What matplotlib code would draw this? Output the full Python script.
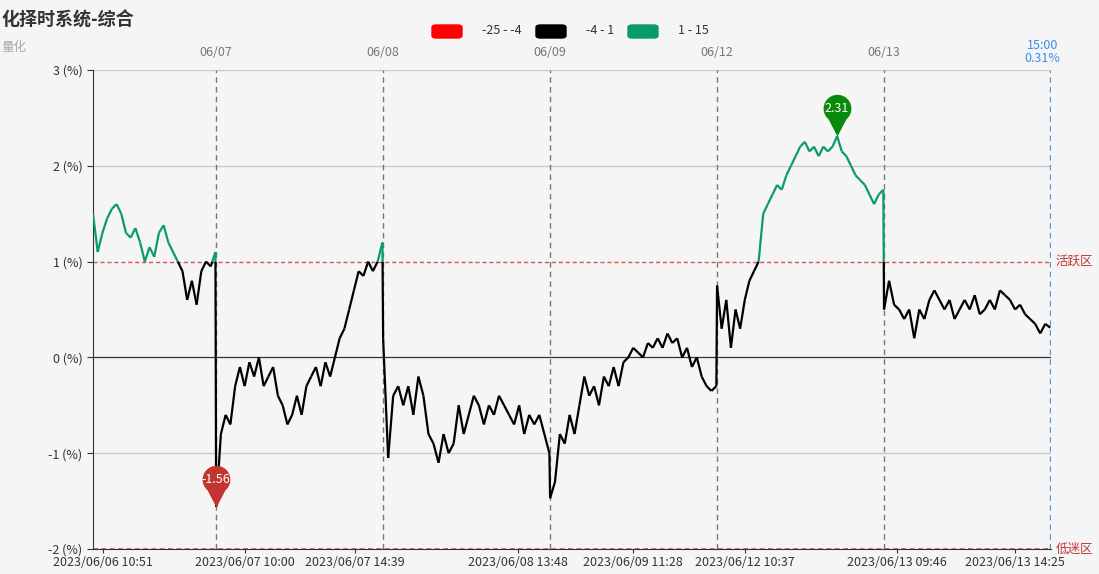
import numpy as np
import matplotlib.pyplot as plt
from matplotlib.collections import LineCollection
from matplotlib.path import Path
from matplotlib.patches import FancyBboxPatch

plt.rcParams["font.family"] = ["Noto Sans CJK SC", "DejaVu Sans"]

# daily values (%), evenly spaced within each trading session
day0 = [1.5, 1.1, 1.3, 1.45, 1.55, 1.6, 1.5, 1.3, 1.25, 1.35, 1.2, 1.0, 1.15, 1.05,
        1.3, 1.38, 1.2, 1.1, 1.0, 0.9, 0.6, 0.8, 0.55, 0.9, 1.0, 0.95, 1.1]
day1 = [-1.56, -0.8, -0.6, -0.7, -0.3, -0.1, -0.3, -0.05, -0.2, 0.0, -0.3, -0.2, -0.1,
        -0.4, -0.5, -0.7, -0.6, -0.4, -0.6, -0.3, -0.2, -0.1, -0.3, -0.05, -0.2, 0.0,
        0.2, 0.3, 0.5, 0.7, 0.9, 0.85, 1.0, 0.9, 1.0, 1.2]
day2 = [0.2, -1.05, -0.4, -0.3, -0.5, -0.3, -0.6, -0.2, -0.4, -0.8, -0.9, -1.1, -0.8,
        -1.0, -0.9, -0.5, -0.8, -0.6, -0.4, -0.5, -0.7, -0.5, -0.6, -0.4, -0.5, -0.6,
        -0.7, -0.5, -0.8, -0.6, -0.7, -0.6, -0.8, -1.0]
day3 = [-1.47, -1.3, -0.8, -0.9, -0.6, -0.8, -0.5, -0.2, -0.4, -0.3, -0.5, -0.2, -0.3,
        -0.1, -0.3, -0.05, 0.0, 0.1, 0.05, 0.0, 0.15, 0.1, 0.2, 0.1, 0.25, 0.15, 0.2,
        0.0, 0.1, -0.1, 0.0, -0.2, -0.3, -0.35, -0.3]
day4 = [0.75, 0.3, 0.6, 0.1, 0.5, 0.3, 0.6, 0.8, 0.9, 1.0, 1.5, 1.6, 1.7, 1.8, 1.75,
        1.9, 2.0, 2.1, 2.2, 2.25, 2.15, 2.2, 2.1, 2.2, 2.15, 2.2, 2.31, 2.15, 2.1, 2.0,
        1.9, 1.85, 1.8, 1.7, 1.6, 1.7, 1.75]
day5 = [0.5, 0.8, 0.55, 0.5, 0.4, 0.5, 0.2, 0.5, 0.4, 0.6, 0.7, 0.6, 0.5, 0.6, 0.4,
        0.5, 0.6, 0.5, 0.65, 0.45, 0.5, 0.6, 0.5, 0.7, 0.65, 0.6, 0.5, 0.55, 0.45, 0.4,
        0.35, 0.25, 0.35, 0.31]
days = [day0, day1, day2, day3, day4, day5]
day_minutes = [177, 240, 240, 240, 240, 240]
day_labels = ["06/07", "06/08", "06/09", "06/12", "06/13"]
bottom_labels = ["2023/06/06 10:51", "2023/06/07 10:00", "2023/06/07 14:39", "2023/06/08 13:48",
                 "2023/06/09 11:28", "2023/06/12 10:37", "2023/06/13 09:46", "2023/06/13 14:25"]
bottom_pos = [14, 218, 377, 611, 776, 937, 1155, 1325]
pieces = [(-25, -4, "#ff0000", "-25 - -4"), (-4, 1, "#000000", "-4 - 1"), (1, 15, "#0a9b6b", "1 - 15")]

xs, ys = [], []
start = 0
for vals, width in zip(days, day_minutes):
    n = len(vals)
    xs.extend(start + np.linspace(0, width - 1, n))
    ys.extend(vals)
    start += width
xs = np.array(xs)
ys = np.array(ys)
bounds = np.cumsum(day_minutes)

# split segments at threshold 1 and -4
px, py = [xs[0]], [ys[0]]
for i in range(1, len(xs)):
    for t in (1, -4):
        if (ys[i - 1] - t) * (ys[i] - t) < 0:
            f = (t - ys[i - 1]) / (ys[i] - ys[i - 1])
            px.append(xs[i - 1] + f * (xs[i] - xs[i - 1]))
            py.append(t)
    px.append(xs[i])
    py.append(ys[i])
px, py = np.array(px), np.array(py)
segs, cols = [], []
for i in range(1, len(px)):
    mid = (py[i] + py[i - 1]) / 2
    c = "#000000"
    for lo, hi, col, _ in pieces:
        if lo <= mid < hi:
            c = col
    segs.append([(px[i - 1], py[i - 1]), (px[i], py[i])])
    cols.append(c)

fig = plt.figure(figsize=(10.99, 5.74), dpi=100, facecolor="#f5f5f5")
ax = fig.add_axes([93 / 1099, 25 / 574, 958 / 1099, 479 / 574])
ax.set_facecolor("#f5f5f5")
ax.set_xlim(0, bounds[-1])
ax.set_ylim(-2, 3)

for y in (2, -1, 3):
    ax.axhline(y, color="#cccccc", lw=1, zorder=1)
ax.axhline(0, color="#333333", lw=0.9, zorder=1)
ax.axhline(1, color="#d9534f", lw=1, ls=(0, (3, 2)), zorder=1)
ax.axhline(-2, color="#d9534f", lw=1.2, ls=(0, (3, 2)), zorder=1)
for b in bounds[:-1]:
    ax.axvline(b, color="#777777", lw=1, ls=(0, (4, 3)), zorder=1)
ax.axvline(bounds[-1] - 1, color="#5599dd", lw=1, ls=(0, (4, 3)), zorder=1)

ax.add_collection(LineCollection(segs, colors=cols, linewidths=1.6, zorder=3))

ax.set_yticks([-2, -1, 0, 1, 2, 3])
ax.set_yticklabels([f"{v} (%)" for v in [-2, -1, 0, 1, 2, 3]], fontsize=9, color="#333333")
ax.set_xticks(bottom_pos)
ax.set_xticklabels(bottom_labels, fontsize=9, color="#333333")
ax.tick_params(axis="y", length=4, color="#333333")
ax.tick_params(axis="x", length=3, pad=2, color="#333333")
for s in ("top", "right"):
    ax.spines[s].set_visible(False)
ax.spines["left"].set_color("#333333")
ax.spines["bottom"].set_color("#333333")

top = ax.secondary_xaxis("top")
top.set_xticks(list(bounds[:-1]))
top.set_xticklabels(day_labels, fontsize=9, color="#777777")
top.tick_params(length=0, pad=8)
top.spines["top"].set_visible(False)
ax.text(bounds[-1] - 12, 3.05, "15:00\n0.31%", color="#3a8ee6", fontsize=9,
        ha="center", va="bottom", linespacing=1.0)

ax.text(1.005, (1 + 2) / 5, "活跃区", transform=ax.transAxes, color="#c23531", fontsize=9, va="center")
ax.text(1.005, 0, "低迷区", transform=ax.transAxes, color="#c23531", fontsize=9, va="center")

# balloon pins for min / max
ang = np.linspace(np.radians(-50), np.radians(230), 40)
verts = [(0, 0)] + [(np.cos(a), 2 + np.sin(a)) for a in ang] + [(0, 0)]
pin = Path(verts, [Path.MOVETO] + [Path.LINETO] * (len(verts) - 2) + [Path.CLOSEPOLY])
imin, imax = int(np.argmin(ys)), int(np.argmax(ys))
for i, col in ((imin, "#c23531"), (imax, "#0a8a0a")):
    ax.plot(xs[i], ys[i], marker=pin, markersize=60, color=col, mec="none", zorder=5, clip_on=False)
    ax.annotate(f"{ys[i]:.2f}", (xs[i], ys[i]), xytext=(0, 20), textcoords="offset points",
                ha="center", va="center", color="white", fontsize=9, zorder=6)

fig.text(0.001, 0.965, "化择时系统-综合", fontsize=13, fontweight="bold", color="#333333", va="center")
fig.text(0.001, 0.918, "量化", fontsize=9, color="#aaaaaa", va="center")

lx = [432, 536, 628]
for x0, (_, _, col, lab) in zip(lx, pieces):
    fig.patches.append(FancyBboxPatch((x0 / 1099, 1 - 38 / 574), 30 / 1099, 13 / 574,
                                      boxstyle="round,pad=0,rounding_size=0.004",
                                      transform=fig.transFigure, color=col))
    fig.text((x0 + 50) / 1099, 1 - 31 / 574, lab, fontsize=9, color="#333333", va="center")

fig.savefig("out.png", dpi=100, facecolor=fig.get_facecolor())
